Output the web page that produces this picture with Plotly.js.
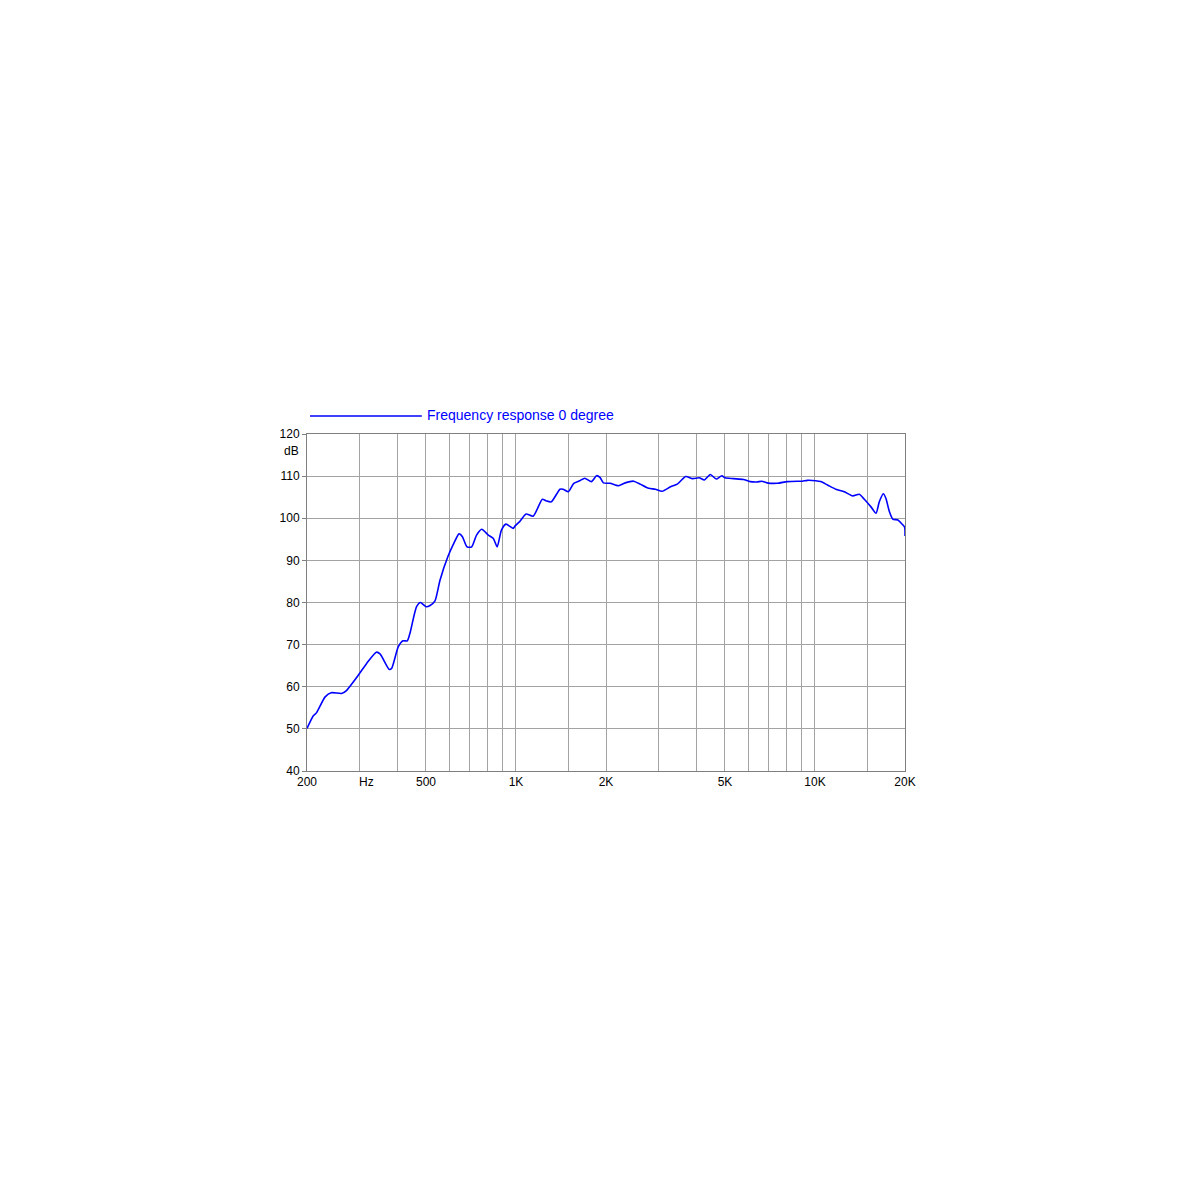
<!DOCTYPE html>
<html>
<head>
<meta charset="utf-8">
<script src="https://cdn.plot.ly/plotly-3.0.1.min.js"></script>
<style>
  body { margin: 0; background: #fff; }
  #plot { width: 1200px; height: 1200px; }
</style>
</head>
<body>
<div id="plot"></div>
<script>
// frequency response
var freq = [200, 210, 215, 230, 241, 261, 271, 296, 317, 341, 351, 377, 384, 404, 419, 433, 442, 465, 479, 500, 516, 536, 557, 592, 620, 645, 662, 686, 711, 738, 768, 808, 840, 865, 894, 926, 978, 994, 1029, 1081, 1142, 1225, 1264, 1313, 1403, 1437, 1497, 1561, 1634, 1698, 1788, 1860, 1909, 1960, 2064, 2202, 2319, 2474, 2604, 2777, 2925, 3081, 3289, 3462, 3694, 3893, 4100, 4265, 4469, 4671, 4880, 5000, 5337, 5762, 6069, 6392, 6646, 6910, 7468, 8069, 8719, 9064, 9422, 10050, 10450, 11010, 11740, 12530, 13370, 14070, 14620, 15390, 16000, 16410, 16920, 17270, 17730, 18200, 18940, 19430, 19940, 20000];
var spl = [50.1, 53.1, 53.8, 57.6, 58.6, 58.4, 59.1, 62.6, 65.6, 68.2, 67.8, 64.1, 64.4, 69.5, 70.9, 70.9, 72.7, 79.0, 80.0, 79.0, 79.3, 80.4, 85.3, 90.9, 94.1, 96.3, 95.6, 93.2, 93.2, 96.0, 97.4, 96.0, 95.2, 93.2, 97.2, 98.6, 97.6, 98.2, 99.2, 101.0, 100.5, 104.5, 104.1, 103.9, 106.9, 106.9, 106.3, 108.3, 108.9, 109.5, 108.7, 110.1, 109.7, 108.4, 108.3, 107.7, 108.4, 108.8, 108.1, 107.1, 106.9, 106.4, 107.5, 108.1, 109.9, 109.4, 109.6, 109.1, 110.4, 109.3, 110.1, 109.6, 109.4, 109.2, 108.7, 108.6, 108.8, 108.4, 108.3, 108.7, 108.8, 108.8, 109.0, 108.9, 108.7, 107.9, 106.9, 106.3, 105.3, 105.7, 104.5, 102.7, 101.2, 103.9, 105.8, 104.7, 101.6, 99.8, 99.6, 98.8, 97.9, 95.8];

var gridFreqs = [200, 300, 400, 500, 600, 700, 800, 900, 1000, 1500, 2000, 3000, 4000, 5000, 6000, 7000, 8000, 9000, 10000, 15000, 20000];
var gridText = ['200', '\u00a0\u00a0\u00a0\u00a0Hz', '', '500', '', '', '', '', '1K', '', '2K', '', '', '5K', '', '', '', '', '10K', '', '20K'];
var dbTicks = [40, 50, 60, 70, 80, 90, 100, 110, 120];
var seriesName = 'Frequency response 0 degree';

var trace = {
  x: freq,
  y: spl,
  type: 'scatter',
  mode: 'lines',
  line: {color: '#0000ff', width: 1.6, shape: 'spline', smoothing: 0.6},
  showlegend: false,
  hoverinfo: 'x+y'
};

var layout = {
  width: 1200,
  height: 1200,
  paper_bgcolor: '#fff',
  plot_bgcolor: '#fff',
  margin: {l: 307, r: 295, t: 434, b: 429},
  font: {family: 'Liberation Sans, Arial, sans-serif', size: 12, color: '#000'},
  xaxis: {
    type: 'log',
    range: [Math.log10(200), Math.log10(20000)],
    tickmode: 'array',
    tickvals: gridFreqs,
    ticktext: gridText,
    ticks: '',
    showgrid: true,
    gridcolor: '#a3a3a3',
    gridwidth: 1,
    showline: true,
    mirror: true,
    linecolor: '#7f7f7f',
    linewidth: 1,
    zeroline: false,
    tickfont: {size: 12, color: '#000'},
    fixedrange: true
  },
  yaxis: {
    range: [40, 120],
    tickmode: 'array',
    tickvals: dbTicks,
    ticks: 'outside',
    ticklen: 4,
    tickcolor: '#7f7f7f',
    showgrid: true,
    gridcolor: '#a3a3a3',
    gridwidth: 1,
    showline: true,
    mirror: true,
    linecolor: '#7f7f7f',
    linewidth: 1,
    zeroline: false,
    tickfont: {size: 12, color: '#000'},
    fixedrange: true
  },
  shapes: [{
    type: 'line', xref: 'paper', yref: 'paper',
    x0: 0.005, x1: 0.192, y0: 1.0534, y1: 1.0534,
    line: {color: '#0000ff', width: 1.3}
  }],
  annotations: [{
    xref: 'paper', yref: 'paper', x: 0.197, y: 1.0564,
    xanchor: 'left', yanchor: 'middle', showarrow: false,
    text: seriesName,
    font: {size: 14, color: '#0000ff'}
  }, {
    xref: 'paper', yref: 'y', x: 0, y: 116.0,
    xanchor: 'right', yanchor: 'middle', showarrow: false,
    xshift: -6,
    text: 'dB',
    font: {size: 12, color: '#000'}
  }]
};

Plotly.newPlot('plot', [trace], layout, {displayModeBar: false, staticPlot: true});
</script>
</body>
</html>
